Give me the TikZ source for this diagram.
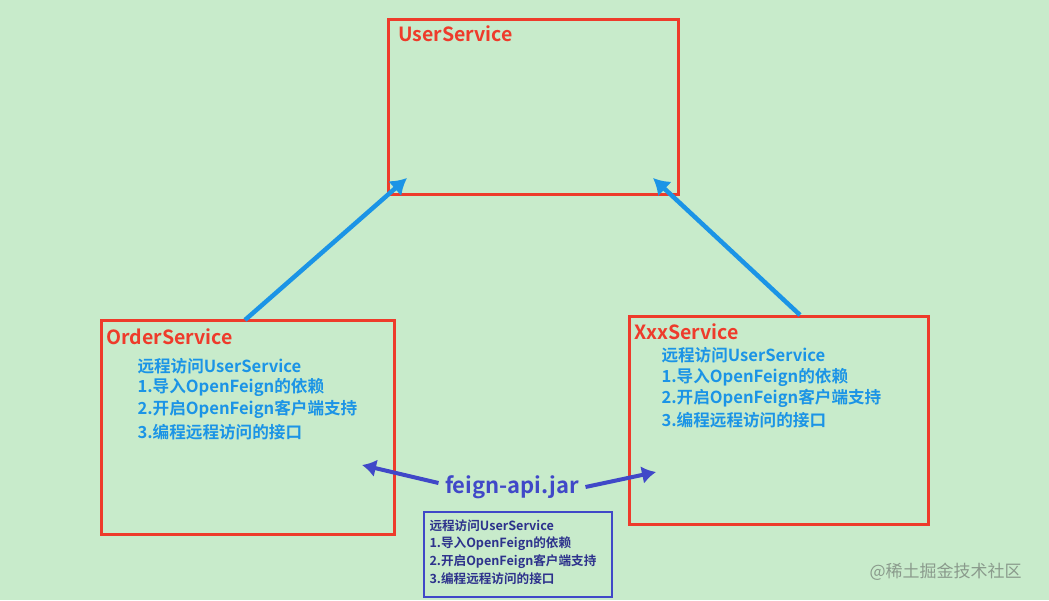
\documentclass[tikz,border=0pt]{standalone}
\usepackage{fontspec}
\newfontfamily\cjk{Noto Sans CJK SC}
\newfontfamily\cjkb{Noto Sans CJK SC Bold}
\definecolor{bg}{HTML}{C8EBCB}
\definecolor{rd}{HTML}{EE3B2B}
\definecolor{bl}{HTML}{1B94E6}
\definecolor{pu}{HTML}{4048C8}
\definecolor{gy}{HTML}{8A9A8C}
\begin{document}
\begin{tikzpicture}[x=1pt,y=-1pt,
 svc/.style={draw=rd,line width=2.8pt},
 ttl/.style={anchor=west,text=rd,font=\cjkb\fontsize{19.5}{20}\selectfont},
 ln/.style={anchor=west,text=bl,font=\cjkb\fontsize{16.6}{17}\selectfont},
 sm/.style={anchor=west,text=pu!70!black,font=\cjkb\fontsize{12.6}{13}\selectfont},
 barr/.style={draw=bl,line width=4.5pt,-{Latex[length=16pt,width=20pt]}},
 parr/.style={draw=pu,line width=4pt,-{Latex[length=14pt,width=18pt]}}]
\usetikzlibrary{arrows.meta}
\fill[bg] (0,0) rectangle (1049,600);
\useasboundingbox (0,0) rectangle (1049,600);
\node[svc,minimum width=290pt,minimum height=175pt,anchor=north west] (us) at (387,18) {};
\node[svc,minimum width=293pt,minimum height=214pt,anchor=north west] (os) at (100,319) {};
\node[svc,minimum width=299pt,minimum height=208pt,anchor=north west] (xs) at (628,315) {};
\node[ttl] (ust) at (395,34) {UserService};
\node[ttl] (ost) at (103,337) {OrderService};
\node[ttl] (xst) at (631,332) {XxxService};
\node[ln] (o1) at (134,366) {远程访问UserService};
\node[ln] (o2) at (134,387) {1.导入OpenFeign的依赖};
\node[ln] (o3) at (134,409) {2.开启OpenFeign客户端支持};
\node[ln] (o4) at (134,432) {3.编程远程访问的接口};
\node[ln] (x1) at (658,355) {远程访问UserService};
\node[ln] (x2) at (658,377) {1.导入OpenFeign的依赖};
\node[ln] (x3) at (658,398) {2.开启OpenFeign客户端支持};
\node[ln] (x4) at (658,420) {3.编程远程访问的接口};
\coordinate (a1) at (245,320); \coordinate (b1) at (407,178);
\coordinate (a2) at (800,315); \coordinate (b2) at (653,178);
\draw[barr] (a1) -- (b1);
\draw[barr] (a2) -- (b2);
\node[text=pu,font=\cjkb\fontsize{22}{24}\selectfont] (jar) at (512,487) {feign-api.jar};
\coordinate (p1) at (362,465); \coordinate (p2) at (656,472);
\draw[parr] (jar.west) ++(-3,-4) -- (p1);
\draw[parr] (jar.east) ++(3,0) -- (p2);
\node[draw=pu,line width=1.5pt,minimum width=188pt,minimum height=85pt,anchor=north west] (api) at (423,511) {};
\node[sm] (s1) at (426,526) {远程访问UserService};
\node[sm] (s2) at (426,544) {1.导入OpenFeign的依赖};
\node[sm] (s3) at (426,562) {2.开启OpenFeign客户端支持};
\node[sm] (s4) at (426,579) {3.编程远程访问的接口};
\node[anchor=west,text=gy,font=\cjk\fontsize{17}{18}\selectfont] (wm) at (866,572) {@稀土掘金技术社区};
\end{tikzpicture}
\end{document}
